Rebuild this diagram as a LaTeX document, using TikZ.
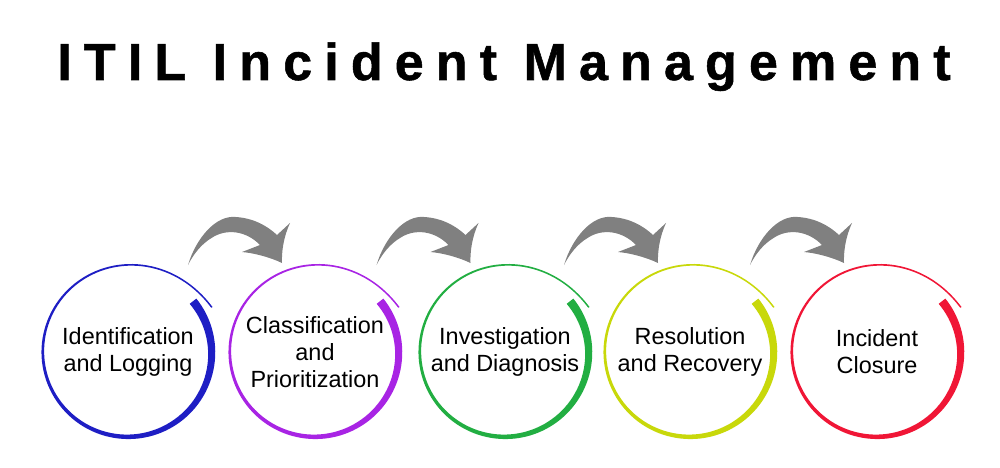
\documentclass[tikz,border=0pt]{standalone}
\usepackage{fontspec}
\setmainfont{Liberation Sans}
\newfontfamily\titlefont[LetterSpace=23.3,FakeBold=1]{Liberation Sans Bold}
\usetikzlibrary{calc}
\definecolor{StepBlue}{RGB}{30,30,196}
\definecolor{StepPurple}{RGB}{168,36,228}
\definecolor{StepGreen}{RGB}{34,174,66}
\definecolor{StepLime}{RGB}{200,216,10}
\definecolor{StepRed}{RGB}{240,22,54}
\definecolor{ArrowGray}{RGB}{128,128,128}
\tikzset{
  titlenode/.style={anchor=base,inner sep=0pt,font=\titlefont\fontsize{44.4}{50}\selectfont},
  stepnode/.style={align=center,inner sep=0pt,text=black,font=\fontsize{20}{23.2}\selectfont},
  turnarrow/.style={fill=ArrowGray},
  declare function={ringr(\t)=85+10*exp(-(\t-28)/40)-2.5*((\t-28)/370)^6; ringw(\t)=1.5+7*((\t-28)/370)^2;}
}

\begin{document}
\begin{tikzpicture}[x=0.03cm,y=0.03cm]
\useasboundingbox (0,0) rectangle (1000,467);
\node[titlenode] (title) at (504,387) {ITIL Incident Management};

\node[stepnode] (ident) at (128,115) {Identification\\and Logging};
\node[stepnode] (classif) at (315,115) {Classification\\and\\Prioritization};
\node[stepnode] (invest) at (505,115) {Investigation\\and Diagnosis};
\node[stepnode] (resol) at (690,115) {Resolution\\and Recovery};
\node[stepnode] (closure) at (877,115) {Incident\\Closure};

% brush rings round the steps
\foreach \n/\col in {ident/StepBlue,classif/StepPurple,invest/StepGreen,resol/StepLime,closure/StepRed}{
  \fill[\col,shift={(\n.center)}]
    plot[domain=28:398,samples=120,variable=\t] (\t:{ringr(\t)+ringw(\t)/2})
    -- plot[domain=398:28,samples=120,variable=\t] (\t:{ringr(\t)-ringw(\t)/2}) -- cycle;
}

% curved arrows between the steps
\foreach \a/\b in {ident/classif,classif/invest,invest/resol,resol/closure}{
  \fill[turnarrow,shift={($(\a.center)!0.5!(\b.center)$)}]
    (-33.5,87) .. controls (-25,115) and (-5,137) .. (14,135)
    .. controls (32,134) and (46,126) .. (55.5,117)
    -- (68.5,129) .. controls (62,115) and (60,100) .. (60.5,89)
    .. controls (48,95) and (32,99) .. (20.5,100)
    -- (38.5,107) .. controls (25,121) and (5,124) .. (-10,114)
    .. controls (-20,108) and (-28,98) .. cycle;
}
\end{tikzpicture}
\end{document}
